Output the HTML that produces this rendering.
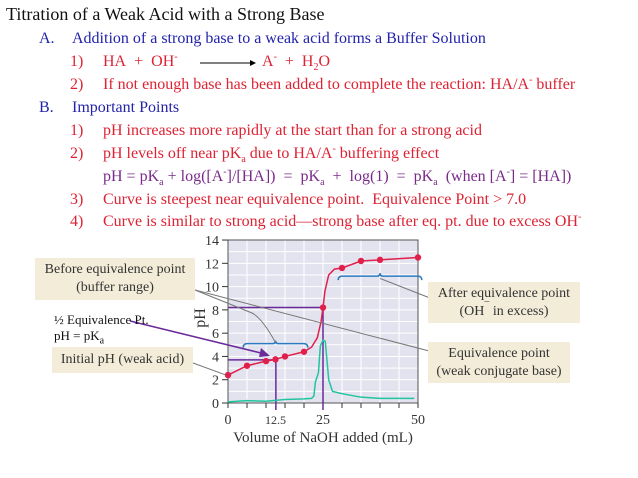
<!DOCTYPE html>
<html><head><meta charset="utf-8">
<style>
body{margin:0;background:#fff;width:638px;height:478px;overflow:hidden;position:relative;font-family:"Liberation Serif",serif}
.t{position:absolute;white-space:nowrap;font-size:16px;line-height:18px}
.b{color:#2222aa}.r{color:#dd2233}.p{color:#7a2a8a}
sub,sup{font-size:10px;line-height:0}
.n{display:inline-block;width:33px}
</style></head><body>
<div class="t" style="left:6px;top:5px;font-size:18px;color:#111">Titration of a Weak Acid with a Strong Base</div>
<div class="t b" style="left:39px;top:30px"><span class="n">A.</span>Addition of a strong base to a weak acid forms a Buffer Solution</div>
<div class="t r" style="left:70px;top:53px"><span class="n">1)</span>HA&nbsp;&nbsp;+&nbsp;&nbsp;OH<sup>-</sup></div>
<svg style="position:absolute;left:198px;top:58px" width="60" height="10"><line x1="2" y1="5" x2="54" y2="5" stroke="#000" stroke-width="1"/><polygon points="52,2 58,5 52,8" fill="#000"/></svg>
<div class="t r" style="left:262px;top:53px">A<sup>-</sup>&nbsp;&nbsp;+&nbsp;&nbsp;H<sub>2</sub>O</div>
<div class="t r" style="left:70px;top:76px"><span class="n">2)</span>If not enough base has been added to complete the reaction: HA/A<sup>-</sup> buffer</div>
<div class="t b" style="left:39px;top:99px"><span class="n">B.</span>Important Points</div>
<div class="t r" style="left:70px;top:122px"><span class="n">1)</span>pH increases more rapidly at the start than for a strong acid</div>
<div class="t r" style="left:70px;top:145px"><span class="n">2)</span>pH levels off near pK<sub>a</sub> due to HA/A<sup>-</sup> buffering effect</div>
<div class="t p" style="left:103px;top:168px">pH = pK<sub>a</sub> + log([A<sup>-</sup>]/[HA])&nbsp;&nbsp;=&nbsp;&nbsp;pK<sub>a</sub>&nbsp;&nbsp;+&nbsp;&nbsp;log(1)&nbsp;&nbsp;=&nbsp;&nbsp;pK<sub>a</sub>&nbsp;&nbsp;(when [A<sup>-</sup>] = [HA])</div>
<div class="t r" style="left:70px;top:191px"><span class="n">3)</span>Curve is steepest near equivalence point.&nbsp;&nbsp;Equivalence Point &gt; 7.0</div>
<div class="t r" style="left:70px;top:213px"><span class="n">4)</span>Curve is similar to strong acid—strong base after eq. pt. due to excess OH<sup>-</sup></div>

<svg id="chart" style="position:absolute;left:0;top:0" width="638" height="478"></svg>
<script>
const tickVals=[0,2,4,6,8,10,12,14];
const xTickLabels=["0","12.5","25","50"];
const xTickVals=[0,12.5,25,50];
const markerX=[0,5,10,12.5,15,20,25,30,35,40,50];
const markerY=[2.4,3.2,3.6,3.75,4.0,4.4,8.2,11.6,12.2,12.3,12.5];
const curveX=[0,5,10,12.5,15,20,22,23.5,24.5,25,25.5,26.5,28,30,35,40,50];
const curveY=[2.4,3.2,3.6,3.75,4.0,4.4,4.8,5.6,7.0,8.2,9.6,11.0,11.5,11.6,12.2,12.3,12.5];
const derivX=[0,5,10,15,20,22,22.6,23,23.8,24.3,25,25.6,26.5,27.5,30,35,40,45,49];
const derivY=[0.1,0.2,0.15,0.3,0.35,0.4,0.6,1.8,2.6,4.9,5.4,5.3,2,1,0.8,0.5,0.4,0.4,0.4];
const halfEqPH=3.7, halfEqVol=12.6, eqPH=8.2, eqVol=25;
const X=v=>228+v*3.8, Y=p=>403-p*11.64;
const svg=document.getElementById('chart');
const NS='http://www.w3.org/2000/svg';
function mk(tag,attrs,parent){const e=document.createElementNS(NS,tag);for(const k in attrs)e.setAttribute(k,attrs[k]);(parent||svg).appendChild(e);return e;}
const bg=mk('rect',{x:228,y:240,width:190,height:163,fill:'#e3e3ef'});


for(let v=5;v<50;v+=5){mk('line',{x1:X(v),x2:X(v),y1:Y(14),y2:Y(0),stroke:'#fff','stroke-width':1});}
for(let p=1;p<14;p+=1){mk('line',{x1:X(0),x2:X(50),y1:Y(p),y2:Y(p),stroke:'#fff','stroke-width':1});}
mk('rect',{x:228,y:240,width:190,height:163,fill:'none',stroke:'#555','stroke-width':1});
tickVals.forEach(t=>{
 mk('line',{x1:222,x2:228,y1:Y(t),y2:Y(t),stroke:'#333'});
 const tx=mk('text',{x:219,y:Y(t)+5,'text-anchor':'end','font-size':14,fill:'#333','font-family':'Liberation Serif,serif'});
 tx.textContent=t;
 
 
});
for(let v=0;v<=50;v+=5){mk('line',{x1:X(v),x2:X(v),y1:403,y2:408,stroke:'#333'});}
xTickLabels.forEach((l,i)=>{
 const tx=mk('text',{x:X(xTickVals[i]),y:424,'text-anchor':'middle','font-size':l==='12.5'?12:14,fill:'#333','font-family':'Liberation Serif,serif'});
 tx.textContent=l;
 
 
});
const xt=mk('text',{x:323,y:442,'text-anchor':'middle','font-size':15,fill:'#333','font-family':'Liberation Serif,serif'});
xt.textContent='Volume of NaOH added (mL)';


const yt=mk('text',{x:0,y:0,transform:'translate(205,318) rotate(-90)','text-anchor':'middle','font-size':16,fill:'#333','font-family':'Liberation Serif,serif'});
yt.textContent='pH';


const pc='#6a2a9a';
mk('polyline',{points:`${X(0)},${Y(eqPH)} ${X(eqVol)},${Y(eqPH)} ${X(eqVol)},410`,fill:'none',stroke:pc,'stroke-width':1.5});
mk('polyline',{points:`${X(0)},${Y(halfEqPH)} ${X(halfEqVol)},${Y(halfEqPH)} ${X(halfEqVol)},410`,fill:'none',stroke:pc,'stroke-width':1.5});
const d=mk('polyline',{points:derivX.map((x,i)=>X(x)+','+Y(derivY[i])).join(' '),fill:'none',stroke:'#22c4a0','stroke-width':1.5});


const c=mk('polyline',{points:curveX.map((x,i)=>X(x)+','+Y(curveY[i])).join(' '),fill:'none',stroke:'#e0204a','stroke-width':1.5});


markerX.forEach((x,i)=>{
 const m=mk('circle',{cx:X(x),cy:Y(markerY[i]),r:3.2,fill:'#e0204a'});
 
 
});
function bracket(a,b,p){const y=Y(p),x1=X(a),x2=X(b),m=(x1+x2)/2;
 mk('path',{d:`M${x1},${y+4} Q${x1},${y} ${x1+4},${y} L${m-3},${y} Q${m},${y} ${m},${y-3} Q${m},${y} ${m+3},${y} L${x2-4},${y} Q${x2},${y} ${x2},${y+4}`,fill:'none',stroke:'#2a7ac0','stroke-width':1.6});}
bracket(4,21,5.1);bracket(29,51,10.9);
const g='#777';
mk('path',{d:`M195,290 L252,313 Q262,318 ${X(12.5)},${Y(5.2)}`,fill:'none',stroke:g});
mk('line',{x1:195,y1:290,x2:433,y2:352,stroke:g});
mk('line',{x1:X(40),y1:Y(10.7),x2:430,y2:298,stroke:g});
mk('line',{x1:193,y1:363,x2:226,y2:Y(2.4),stroke:g});
mk('line',{x1:130,y1:321,x2:265,y2:354,stroke:pc,'stroke-width':1.5});
mk('polygon',{points:'270,356 261,348 259,357',fill:pc});
</script>
<div style="position:absolute;left:35px;top:258px;width:160px;height:42px;background:#f2ecd8;font-size:14px;line-height:18px;text-align:center;color:#333;padding-top:3px;box-sizing:border-box">Before equivalence point<br>(buffer range)</div>
<div style="position:absolute;left:52px;top:347px;width:141px;height:26px;background:#f2ecd8;font-size:14px;line-height:26px;text-align:center;color:#333">Initial pH (weak acid)</div>
<div style="position:absolute;left:428px;top:282px;width:152px;height:41px;background:#f2ecd8;font-size:14px;line-height:18px;text-align:center;color:#333;padding-top:3px;box-sizing:border-box">After equivalence point<br>(OH<sup>¯</sup> in excess)</div>
<div style="position:absolute;left:428px;top:342px;width:142px;height:41px;background:#f2ecd8;font-size:14px;line-height:18px;text-align:center;color:#333;padding-top:3px;box-sizing:border-box">Equivalence point<br>(weak conjugate base)</div>
<div style="position:absolute;white-space:nowrap;left:54px;top:312px;font-size:13px;line-height:16px;color:#111">½ Equivalence Pt.<br>pH = pK<sub>a</sub></div>
</body></html>
